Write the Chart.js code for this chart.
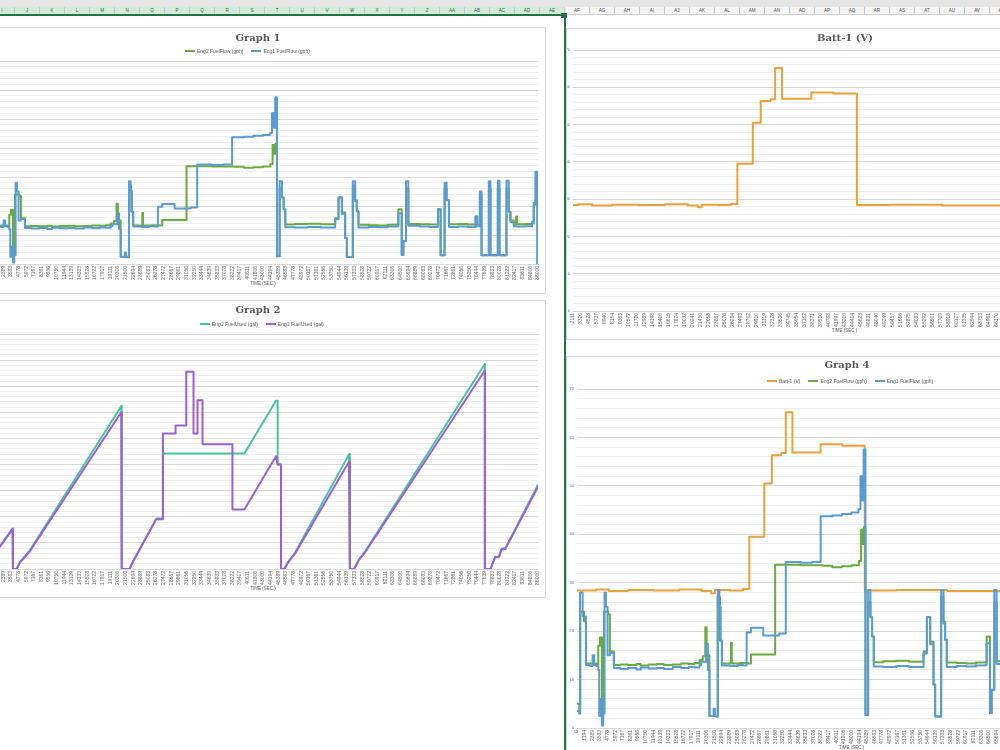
<!DOCTYPE html>
<html><head><meta charset="utf-8">
<script src="https://cdn.jsdelivr.net/npm/chart.js@4.4.1/dist/chart.umd.min.js"></script>
<style>
html,body{margin:0;padding:0;background:#fff;}
body{width:1000px;height:750px;position:relative;overflow:hidden;font-family:"Liberation Sans",Arial,sans-serif;}
#topbar{position:absolute;left:0;top:0;width:1000px;height:7px;background:#e6e6e6;}
#hdr{position:absolute;left:0;top:7px;width:1000px;height:7px;background:#f4f4f4;border-bottom:1px solid #d0d0d0;}
.col{position:absolute;top:0;height:7px;border-right:1px solid #c8c8c8;box-sizing:border-box;font-size:4.5px;line-height:7px;text-align:center;color:#444;}
.col.sel{background:#d4eadb;color:#1d6b3c;}
#selline{position:absolute;left:0;top:14px;width:566px;height:2px;background:#217346;}
#vline{position:absolute;left:564px;top:14px;width:2px;height:736px;background:#217346;}
#handle{position:absolute;left:561px;top:13px;width:6px;height:5px;background:#217346;}
.box{position:absolute;background:#fff;}
.box canvas{position:absolute;left:0;top:0;}
.frame{position:absolute;left:0;top:0;right:0;bottom:0;border:1px solid #d9d9d9;pointer-events:none;}
.title{position:absolute;font-weight:bold;font-size:10px;font-family:"DejaVu Serif",serif;color:#595959;white-space:nowrap;transform:translateX(-50%);line-height:12px;}
.legend{position:absolute;display:flex;align-items:center;font-size:5px;color:#595959;white-space:nowrap;line-height:6px;}
.legend .it{display:flex;align-items:center;margin-right:8px;}
.legend .sw{display:inline-block;width:10px;height:2px;margin-right:2px;}
</style></head>
<body>
<div id="topbar"></div>
<div id="hdr"></div>
<div id="selline"></div>

<div class="box" style="left:-29px;top:27px;width:575px;height:267px;">
  <canvas id="c1" width="575" height="267"></canvas>
  <div class="title" style="left:287px;top:5px;">Graph 1</div>
  <div class="legend" style="left:214px;top:21px;">
    <span class="it"><span class="sw" style="background:#6aab3d"></span>Eng2 FuelFlow (gph)</span>
    <span class="it"><span class="sw" style="background:#5b9bd5"></span>Eng1 FuelFlow (gph)</span>
  </div>
  <div class="frame"></div>
</div>

<div class="box" style="left:-29px;top:300px;width:575px;height:298px;">
  <canvas id="c2" width="575" height="298"></canvas>
  <div class="title" style="left:287px;top:4px;">Graph 2</div>
  <div class="legend" style="left:229px;top:21px;">
    <span class="it"><span class="sw" style="background:#48c3a0"></span>Eng2 FuelUsed (gal)</span>
    <span class="it"><span class="sw" style="background:#9b5fd9"></span>Eng1 FuelUsed (gal)</span>
  </div>
  <div class="frame"></div>
</div>

<div class="box" style="left:566px;top:28px;width:558px;height:312px;">
  <canvas id="c3" width="558" height="312"></canvas>
  <div class="title" style="left:279px;top:4px;">Batt-1 (V)</div>
  <div class="frame"></div>
</div>

<div class="box" style="left:566px;top:356px;width:568px;height:400px;">
  <canvas id="c4" width="568" height="400"></canvas>
  <div class="title" style="left:281px;top:3px;">Graph 4</div>
  <div class="legend" style="left:201px;top:22px;">
    <span class="it"><span class="sw" style="background:#eba13b"></span>Batt-1 (V)</span>
    <span class="it"><span class="sw" style="background:#6aab3d"></span>Eng2 FuelFlow (gph)</span>
    <span class="it"><span class="sw" style="background:#5b9bd5"></span>Eng1 FuelFlow (gph)</span>
  </div>
  <div class="frame"></div>
</div>

<div id="vline"></div>
<div id="handle"></div>

<script>
// ---------- spreadsheet column letters ----------
const leftCols = ['I','J','K','L','M','N','O','P','Q','R','S','T','U','V','W','X','Y','Z','AA','AB','AC','AD','AE'];
const rightCols = ['AF','AG','AH','AI','AJ','AK','AL','AM','AN','AO','AP','AQ','AR','AS','AT','AU','AV','AW'];

// ---------- data (time in seconds; each value holds until the next time) ----------
const eng1Time = [0,364,468,884,1404,2028,2444,2704,3068,3328,3484,3744,3900,4108,4316,4524,4784,5148,5772,6800,8000,9300,10000,11200,12500,13600,15000,16300,17500,18400,19188,19448,20228,20500,20748,21400,21600,22048,22300,22500,22700,24000,25200,26000,26572,27248,29172,31668,32708,35000,36800,38168,40000,41500,43000,44100,44400,44700,44900,45188,45604,45968,46228,46488,48000,50000,52000,54288,54808,55328,55848,56108,57044,57408,57668,57928,59500,61000,62500,63908,64168,64688,64948,65364,65728,67500,69000,70356,70772,71396,71708,72072,73500,75000,76232,76492,76908,77168,78312,78572,79716,79976,81068,81432,81692,82212,82732,84000,85072,85332,85592,85904,86000];
const eng1Flow = [3.5,3,28,23,13,12.8,15,13,12.8,12,2.5,6,0.5,3,28,25,15,15.5,12.4,12.2,12.4,12.1,12.5,12.3,12.4,12.2,12.6,12.4,12.6,12.5,13,13.7,17.4,12,2.5,4,2.5,28.5,25,18,12.9,12.8,13,12.9,19.7,20.7,19.1,19.5,34.3,34.1,34.3,43.7,43.9,44.2,44.5,45.2,52,47,57.5,2.7,28.5,22.9,18.9,12.7,12.6,12.8,12.6,15.4,22.9,17.3,9,2.4,28.5,21.6,18.2,12.6,12.8,12.7,12.9,13,17.5,3.1,7.9,28.5,13.2,12.9,12.8,18.9,3,28,22,12.8,12.9,12.8,16.4,13,25,3,28.5,3,28.7,3,28.7,18,14.5,13,12.9,13,14,20.4,31.8,0.3,0.3];

const eng2Time = [0,364,520,1100,1404,3068,3328,3600,3900,4212,4888,5148,5772,6800,8000,9300,10000,11200,12500,13600,15000,16300,17500,18400,19188,19700,20100,20300,20748,21800,22048,22400,22700,24000,24128,24250,25500,26800,27248,31044,35000,38500,40000,41500,43000,44148,44500,44700,44950,45188,45604,45968,46228,46488,48000,50000,52000,54288,54808,55328,55848,56108,57044,57408,57668,57928,59500,61000,62500,63908,64168,64688,64948,65364,65728,67500,69000,70356,70772,71396,71708,72072,73500,75000,76232,76492,76908,77168,78312,78572,79716,79976,81068,81432,81692,82212,82576,82732,84000,85072,85332,85592,85904,86000];
const eng2Flow = [5,3,24,22,13.3,12.8,17,18.7,3,24,23.5,15.8,13,13.1,13.0,13.2,12.9,13.1,13.2,13.0,13.1,13.3,13.2,13.4,14,14.8,20.8,15,2.5,2.3,27,18,13.3,13.4,17.6,13.3,13.4,13.3,15.2,33.7,33.6,33.5,33.2,33.4,33.6,34.5,41,38,41.5,2.7,26,22.9,18.9,13.6,13.8,13.9,13.7,15.8,22.9,17.8,9,2.4,27,22,18.2,13.5,13.4,13.3,13.5,13.6,18.9,3.1,7.9,26,13.8,13.7,13.6,18.9,3,26,22,13.7,13.8,13.6,16.4,13.7,24,3,26,3,26,3,26,18,15,13.7,16.4,13.7,13.8,14.5,21,22,0.3,0.3];

const battTime = [0,3000,5000,8000,12000,16000,19500,21000,21600,24000,26000,26988,29328,30524,32000,32708,33748,38168,41548,45084,50000,58000,70000,84000,86000];
const battVolt = [28.4,28.6,28.3,28.5,28.4,28.6,28.3,27.8,28.5,28.4,28.7,39.5,50.5,56.3,56.8,65.2,56.9,58.6,58.3,28.4,28.5,28.3,28.4,28.6,28.4];

const eng1UsedTime = [0,1872,3848,3900,4472,5000,6500,20852,20904,22152,22600,23500,26312,27352,27352,29328,29328,31000,31000,32136,32136,32760,32760,33540,33540,38220,38220,40092,45032,45292,45812,45812,46332,47000,48000,56472,56576,57252,58000,59000,77688,77688,78572,79300,79900,80300,80900,86000];
const eng1Used = [2.5,8.6,15.3,0,0,2.5,6.6,60.1,0,0,2.5,6.5,19.1,19.1,51.9,51.9,55,55,75.5,75.5,51.9,51.9,64.6,64.6,47.8,47.8,22.8,22.8,43.2,40,40,0,0,2.8,5.8,41.2,0,0,3.5,6.5,76,0,0,4.5,4.6,7.5,7.7,31.5];

const eng2UsedTime = [0,1872,3848,3900,4472,5000,6500,20852,20904,22152,22600,23500,26312,27352,27352,40092,45032,45292,45292,45812,45812,46332,47000,48000,56472,56576,57252,58000,59000,77688,77688,78572,79300,79900,80300,80900,86000];
const eng2Used = [2.5,8.8,15.6,0,0,2.6,7,62.4,0,0,2.5,6.5,19.3,19.3,44.2,44.2,64.4,64.4,40,40,0,0,3,6.2,44,0,0,3.7,6.9,78.5,0,0,4.7,4.8,7.8,8,32.3];

// axis settings
const timeTickStep = 1200;
const flowAxisMax = 70, usedAxisMax = 90, voltAxisMax = 70;

// ---------- header build ----------
const hdr = document.getElementById('hdr');
leftCols.forEach((c,i)=>{const d=document.createElement('div'); d.className='col sel';
  d.style.left=(540-(leftCols.length-1-i)*25)+'px'; d.style.width='25px'; d.textContent=c; hdr.appendChild(d);});
rightCols.forEach((c,i)=>{const d=document.createElement('div'); d.className='col';
  d.style.left=(565+i*25)+'px'; d.style.width='25px'; d.textContent=c; hdr.appendChild(d);});

// ---------- chart helpers ----------
const FONT = '"Liberation Sans", Arial, sans-serif';
const zip = (t,v)=>t.map((x,i)=>({x:x,y:v[i]}));
function line(data,color,stepped){
  return {data:data,borderColor:color,backgroundColor:color,borderWidth:2,pointRadius:0,
          stepped:stepped,tension:0,fill:false,borderJoinStyle:'round'};
}
function opts(o){
  return {
    responsive:false, animation:false, events:[],
    layout:{padding:{top:o.top,left:0,right:o.right,bottom:o.bottom}},
    plugins:{legend:{display:false},title:{display:false},tooltip:{enabled:false}},
    scales:{
      x:{type:'linear',min:o.xmin,max:o.xmax,
        ticks:{stepSize:timeTickStep,includeBounds:false,autoSkip:false,maxRotation:90,minRotation:90,
               font:{size:5,family:FONT},color:'#6a6a6a',padding:2,callback:v=>String(Math.round(v))},
        grid:{display:false,drawTicks:false},
        border:{display:true,color:'#d9d9d9'},
        title:{display:true,text:'TIME (SEC.)',font:{size:4.5,family:FONT},color:'#595959',padding:{top:0,bottom:0}},
        afterFit:s=>{s.height=o.xh;}},
      y:{min:0,max:o.ymax,
        ticks:{stepSize:2,autoSkip:false,font:{size:4,family:FONT},color:'#6a6a6a',padding:3,
               callback:v=>(Math.round(v)%10===0?String(Math.round(v)):'')},
        grid:{drawTicks:false,lineWidth:1,
              color:c=>(c.tick && Math.round(c.tick.value)%10===0 ? '#d9d9d9' : '#eeeeee')},
        border:{display:false},
        afterFit:s=>{s.width=o.yw;}}
    }
  };
}

new Chart(document.getElementById('c1'),{type:'line',
  data:{datasets:[line(zip(eng1Time,eng1Flow),'#5b9bd5','before'), line(zip(eng2Time,eng2Flow),'#6aab3d','before')]},
  options:opts({top:34,right:7,bottom:8,xh:22,yw:17,xmin:0,xmax:86000,ymax:flowAxisMax})});

new Chart(document.getElementById('c2'),{type:'line',
  data:{datasets:[line(zip(eng1UsedTime,eng1Used),'#9b5fd9',false), line(zip(eng2UsedTime,eng2Used),'#48c3a0',false)]},
  options:opts({top:34,right:7,bottom:7,xh:22,yw:17,xmin:0,xmax:86000,ymax:usedAxisMax})});

new Chart(document.getElementById('c3'),{type:'line',
  data:{datasets:[line(zip(battTime,battVolt),'#eba13b','before')]},
  options:opts({top:22,right:6,bottom:7,xh:22,yw:7,xmin:2111,xmax:84300,ymax:voltAxisMax})});

new Chart(document.getElementById('c4'),{type:'line',
  data:{datasets:[line(zip(eng1Time,eng1Flow),'#5b9bd5','before'), line(zip(eng2Time,eng2Flow),'#6aab3d','before'), line(zip(battTime,battVolt),'#eba13b','before')]},
  options:opts({top:33,right:6,bottom:6,xh:22,yw:11,xmin:0,xmax:86000,ymax:voltAxisMax})});
</script>
</body></html>
